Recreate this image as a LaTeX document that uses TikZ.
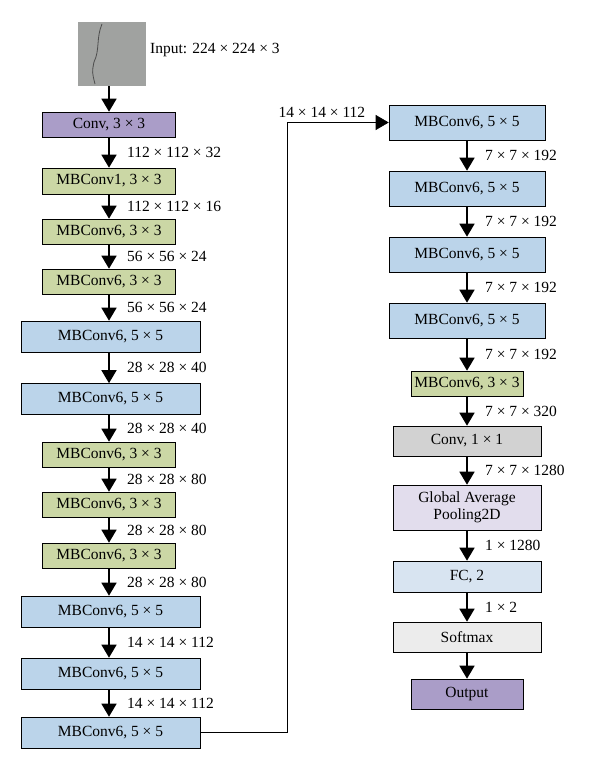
\documentclass[tikz,border=0pt]{standalone}
\usepackage{fontspec}
\setmainfont{Liberation Serif}
\usepackage{tikz}
\usetikzlibrary{arrows, arrows.meta}
\usetikzlibrary{positioning}
\usetikzlibrary{calc}
\definecolor{convPurple}{RGB}{170,157,200}
\definecolor{mbGreen}{RGB}{203,215,165}
\definecolor{mbBlue}{RGB}{187,212,234}
\definecolor{convGray}{RGB}{210,210,210}
\definecolor{poolLav}{RGB}{226,221,237}
\definecolor{fcBlue}{RGB}{216,228,241}
\definecolor{softGray}{RGB}{236,236,236}
\definecolor{imgGray}{RGB}{160,162,160}

\begin{document}
\begin{tikzpicture}[x=1pt, y=-1pt, font=\fontsize{15.5}{17.5}\selectfont,
	blk/.style={draw, line width=0.6pt, inner sep=0pt, align=center},
	sml/.style={blk, minimum width=133pt, minimum height=25pt},
	big/.style={blk, minimum width=179pt, minimum height=31pt, fill=mbBlue},
	rbig/.style={blk, minimum width=156pt, minimum height=35pt, fill=mbBlue},
	rmid/.style={blk, minimum width=148pt, minimum height=30pt},
	flow/.style={line width=1.5pt, -{Triangle[length=13pt, width=15pt]}},
	dim/.style={anchor=west, inner sep=0pt}]
	\useasboundingbox (0,0) rectangle (600,773);
	% input picture
	\node[fill=imgGray, minimum width=68pt, minimum height=64pt, inner sep=0pt] (img) at (112,54) {};
	\draw[black!70, line width=0.8pt] (102,24) .. controls (96,38) and (100,50) .. (94,62) .. controls (92,72) .. (95,84);
	\node[dim] (inp) at (150,50) {Input: 224 × 224 × 3};
	% left column
	\node[sml, fill=convPurple] (c1) at (109,124.5) {Conv, 3 × 3};
	\node[sml, fill=mbGreen, minimum height=26pt] (m1) at (109,181) {MBConv1, 3 × 3};
	\node[sml, fill=mbGreen] (m2) at (109,231.5) {MBConv6, 3 × 3};
	\node[sml, fill=mbGreen] (m3) at (109,281.5) {MBConv6, 3 × 3};
	\node[big] (m4) at (110.5,336.5) {MBConv6, 5 × 5};
	\node[big] (m5) at (110.5,399) {MBConv6, 5 × 5};
	\node[sml, fill=mbGreen] (m6) at (109,454.5) {MBConv6, 3 × 3};
	\node[sml, fill=mbGreen] (m7) at (109,504.5) {MBConv6, 3 × 3};
	\node[sml, fill=mbGreen] (m8) at (109,555.5) {MBConv6, 3 × 3};
	\node[big] (m9) at (110.5,611.5) {MBConv6, 5 × 5};
	\node[big] (m10) at (110.5,673.5) {MBConv6, 5 × 5};
	\node[big] (m11) at (110.5,732.5) {MBConv6, 5 × 5};
	\draw[flow] (img.south -| c1) -- (c1.north);
	\foreach \a/\b/\t in {c1/m1/112 × 112 × 32, m1/m2/112 × 112 × 16, m2/m3/56 × 56 × 24,
		m3/m4/56 × 56 × 24, m4/m5/28 × 28 × 40, m5/m6/28 × 28 × 40, m6/m7/28 × 28 × 80,
		m7/m8/28 × 28 × 80, m8/m9/28 × 28 × 80, m9/m10/14 × 14 × 112, m10/m11/14 × 14 × 112}
	{
		\draw[flow] (\a.south -| c1) -- (\b.north -| c1);
		\node[dim] at ($(\a.south -| 127,0)!0.5!(\b.north -| 127,0)$) {\t};
	}
	% right column
	\node[rbig] (r1) at (467,122.5) {MBConv6, 5 × 5};
	\node[rbig] (r2) at (467,188.5) {MBConv6, 5 × 5};
	\node[rbig] (r3) at (467,254.5) {MBConv6, 5 × 5};
	\node[rbig] (r4) at (467,320.5) {MBConv6, 5 × 5};
	\node[blk, minimum width=112pt, minimum height=25pt, fill=mbGreen] (r5) at (467,383.5) {MBConv6, 3 × 3};
	\node[rmid, fill=convGray] (r6) at (467,441) {Conv, 1 × 1};
	\node[rmid, minimum height=45pt, fill=poolLav] (r7) at (467,507.5) {Global Average\\Pooling2D};
	\node[rmid, minimum height=31pt, fill=fcBlue] (r8) at (467,576.5) {FC, 2};
	\node[rmid, fill=softGray] (r9) at (467,637) {Softmax};
	\node[blk, minimum width=112pt, minimum height=30pt, fill=convPurple] (r10) at (467,694) {Output};
	\foreach \a/\b/\t in {r1/r2/7 × 7 × 192, r2/r3/7 × 7 × 192, r3/r4/7 × 7 × 192,
		r4/r5/7 × 7 × 192, r5/r6/7 × 7 × 320, r6/r7/7 × 7 × 1280, r7/r8/1 × 1280, r8/r9/1 × 2, r9/r10/}
	{
		\draw[flow] (\a.south) -- (\b.north);
		\node[dim] at ($(\a.south -| 485,0)!0.5!(\b.north -| 485,0)$) {\t};
	}
	% link between columns
	\coordinate (bend) at (287,0);
	\draw[line width=0.6pt, -{Triangle[length=13pt, width=15pt]}] (m11.east) -- (m11.east -| bend) -- (r1.west -| bend) -- (r1.west);
	\node[anchor=south, inner sep=2pt] at ($(r1.west -| bend)!0.5!(r1.west) + (-16,-3)$) {14 × 14 × 112};
\end{tikzpicture}
\end{document}
